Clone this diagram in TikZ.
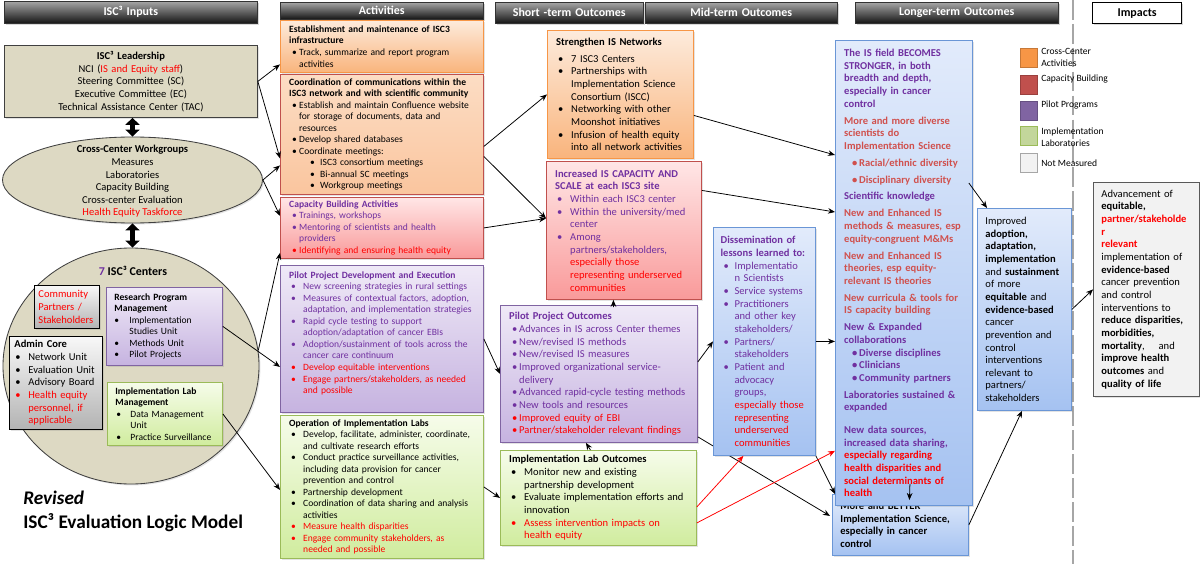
\documentclass[tikz,border=0pt]{standalone}
\usepackage{fontspec}
\setmainfont{Carlito}
\usepackage{tikz}
\usetikzlibrary{arrows.meta, calc, positioning, shapes.geometric, shadows}
\usepackage{xcolor}
\definecolor{Orng}  {HTML}{F79646}
\definecolor{OrngT} {HTML}{FDEBDC}
\definecolor{OrngB} {HTML}{F9B47C}
\definecolor{PchT}  {HTML}{FCDDC4}
\definecolor{PchB}  {HTML}{FAC59E}
\definecolor{Brick} {HTML}{C0504D}
\definecolor{PinkT} {HTML}{FFE6E6}
\definecolor{PinkB} {HTML}{F99A9A}
\definecolor{Purp}  {HTML}{8064A2}
\definecolor{PurpT} {HTML}{EFE9F7}
\definecolor{PurpB} {HTML}{C6B3E0}
\definecolor{PurpX} {HTML}{7030A0}
\definecolor{Grn}   {HTML}{9BBB59}
\definecolor{GrnL}  {HTML}{C3D69B}
\definecolor{GrnT}  {HTML}{F6FCEA}
\definecolor{GrnB}  {HTML}{D0EC9E}
\definecolor{Blu}   {HTML}{6A96D6}
\definecolor{BluT}  {HTML}{E2EBFB}
\definecolor{BluB}  {HTML}{A5C2F1}
\definecolor{Beige} {HTML}{DDD9C3}
\definecolor{GryT}  {HTML}{F8F8F8}
\definecolor{GryB}  {HTML}{B3B3B3}
\definecolor{GryL}  {HTML}{F2F2F2}
\definecolor{LRed}  {HTML}{D0504D}

\newcommand\fsm{\fontsize{6.8}{8.2}\selectfont}
\newcommand\fmd{\fontsize{7.5}{9}\selectfont}
\newlength\bulin
\newlength\bultx
\newcommand\bul{\par\noindent\hangindent=\bultx\hangafter=1%
  \hspace*{\bulin}\makebox[\dimexpr\bultx-\bulin\relax][l]{\textbullet}}
\newcommand\subbul{\par\noindent\hangindent=\dimexpr\bultx+0.525cm\relax\hangafter=1%
  \hspace*{\dimexpr\bultx+0.275cm\relax}\makebox[0.25cm][l]{\textbullet}}

\tikzset{
  blk/.style args={#1/#2/#3}{
    rectangle, draw=#1, top color=#2, bottom color=#3,
    line width=0.6pt, align=left, anchor=north west,
    inner xsep=0.22cm, inner ysep=1pt,
    drop shadow={opacity=0.22, shadow xshift=1pt, shadow yshift=-1pt},
  },
  sz/.style 2 args={
    minimum width=#1*0.025cm, minimum height=#2*0.025cm,
    text width=#1*0.025cm-2*\pgfkeysvalueof{/pgf/inner xsep},
  },
  hdr/.style={
    rectangle, draw=black!80, top color=black!35, bottom color=black!92,
    text=white, font=\fontsize{8.5}{10}\selectfont\bfseries,
    align=center, anchor=north west, inner xsep=2pt, inner ysep=0pt,
    drop shadow={opacity=0.3, shadow xshift=1pt, shadow yshift=-1pt},
  },
  ell/.style={
    ellipse, draw=black!75, fill=Beige, line width=0.6pt, inner sep=0pt,
    drop shadow={opacity=0.22, shadow xshift=1pt, shadow yshift=-1pt},
  },
  bl/.style 2 args={
    execute at begin node={\setlength\bulin{#1}\setlength\bultx{#2}},
  },
  lgd/.style={
    rectangle, minimum width=17*0.025cm, minimum height=19*0.025cm,
    inner sep=0pt, line width=0.6pt,
  },
  lgt/.style={font=\fsm, align=left, anchor=west, inner sep=0pt},
  arr/.style args={#1}{
    -{Stealth[length=5pt,width=4pt]}, line width=0.55pt, color=#1,
  },
  dbl/.style={
    {Triangle[length=5pt,width=10pt]}-{Triangle[length=5pt,width=10pt]},
    line width=3pt,
  },
  divline/.style={draw=black!35, line width=2pt, dash pattern=on 14pt off 3pt},
}

\begin{document}
\begin{tikzpicture}[x=0.025cm, y=-0.025cm]
  \path[use as bounding box, fill=white] (0,0) rectangle (1200,564);

  % column headers
  \draw[divline] (1073,0) -- (1073,564);
  \node[hdr, sz={253}{22}] (hin) at (4,1) {ISC³ Inputs};
  \node[hdr, sz={203}{17}] (hact) at (280,2) {Activities};
  \node[hdr, sz={148}{21}] (hst) at (495,2) {Short -term Outcomes};
  \node[hdr, sz={192}{21}] (hmt) at (645,2) {Mid-term Outcomes};
  \node[hdr, sz={203}{21}] (hlt) at (855,2) {Longer-term Outcomes};
  \node[hdr, sz={89}{21}, top color=white, bottom color=white, text=black,
    draw=black, line width=0.9pt] (himp) at (1092,2) {Impacts};

  % inputs
  \node[blk=black!75/Beige/Beige, sz={253}{72}, align=center, font=\fmd] (lead) at (4,45)
    {\textbf{ISC³ Leadership}\\NCI ({\color{red}IS and Equity staff})\\Steering Committee (SC)\\
     Executive Committee (EC)\\Technical Assistance Center (TAC)};
  \node[ell, minimum width=260*0.025cm, minimum height=86*0.025cm] (cw) at (132.5,180) {};
  \node[font=\fmd, align=center] (cwt) at (132.5,181.5)
    {\textbf{Cross-Center Workgroups}\\Measures\\Laboratories\\Capacity Building\\
     Cross-center Evaluation\\{\color{red}Health Equity Taskforce}};
  \node[ell, minimum width=256*0.025cm, minimum height=236*0.025cm] (ctr) at (131,366) {};
  \node[font=\fontsize{8.5}{10}\selectfont\bfseries] (ctrt) at (133,271)
    {{\color{PurpX}7} ISC³ Centers};
  \node[blk=black/GryT/GryB, sz={65}{43}, inner xsep=0.1cm, font=\fmd, text=red] (comm) at (34,285)
    {Community\\Partners /\\Stakeholders};
  \node[blk=black/GryT/GryB, sz={93}{93}, inner xsep=0.125cm, font=\fmd, bl={0.025cm}{0.35cm}] (adm) at (9,336)
    {\textbf{Admin Core}\bul Network Unit\bul Evaluation Unit\bul Advisory Board\color{red}%
     \bul Health equity\newline personnel, if\newline applicable\par};
  \node[blk=Purp/PurpT/PurpB, sz={116}{78}, inner xsep=0.2cm, font=\fsm, bl={0cm}{0.375cm}] (rpm) at (106,287)
    {\textbf{Research Program\\Management}\bul Implementation\newline Studies Unit\bul Methods Unit\bul Pilot Projects\par};
  \node[blk=Grn/GrnT/GrnB, sz={115}{63}, inner xsep=0.2cm, font=\fsm, bl={0.025cm}{0.375cm}] (ilm) at (107,382)
    {\textbf{Implementation Lab\\Management}\bul Data Management\newline Unit\bul Practice Surveillance\par};
  \node[font=\fontsize{13.7}{16.5}\selectfont\bfseries, align=left, anchor=north west, inner sep=0pt] (ttl) at (23,491)
    {\textit{Revised}\\ISC³ Evaluation Logic Model};

  % activities
  \node[blk=Orng/OrngT/OrngB, sz={203}{52}, font=\fsm, bl={0.075cm}{0.25cm}] (A1) at (280,20)
    {\textbf{Establishment and maintenance of ISC3\\infrastructure}\bul Track, summarize and report program\newline activities\par};
  \node[blk=Brick/PchT/PchB, sz={203}{120}, font=\fsm, bl={0.075cm}{0.25cm}] (A2) at (280,74)
    {\textbf{Coordination of communications within the\\ISC3 network and with scientific community}%
     \bul Establish and maintain Confluence website\newline for storage of documents, data and\newline resources
     \bul Develop shared databases\bul Coordinate meetings:\subbul ISC3 consortium meetings
     \subbul Bi-annual SC meetings\subbul Workgroup meetings\par};
  \node[blk=Brick/PinkT/PinkB, sz={203}{61}, font=\fsm, bl={0.075cm}{0.25cm}] (A3) at (280,197)
    {\color{PurpX}\textbf{Capacity Building Activities}\bul Trainings, workshops
     \bul Mentoring of scientists and health providers\color{red}\bul Identifying and ensuring health equity\par};
  \node[blk=Purp/PurpT/PurpB, sz={203}{147}, font=\fsm, bl={0.05cm}{0.35cm}] (A4) at (280,265)
    {\color{PurpX}\textbf{Pilot Project Development and Execution}\bul New screening strategies in rural settings
     \bul Measures of contextual factors, adoption,\newline adaptation, and implementation strategies
     \bul Rapid cycle testing to support\newline adoption/adaptation of cancer EBIs
     \bul Adoption/sustainment of tools across the\newline cancer care continuum\color{red}
     \bul Develop equitable interventions\bul Engage partners/stakeholders, as needed\newline and possible\par\vspace{8pt}};
  \node[blk=Grn/GrnT/GrnB, sz={203}{143}, font=\fsm, bl={0.05cm}{0.35cm}] (A5) at (280,415)
    {\textbf{Operation of Implementation Labs}\bul Develop, facilitate, administer, coordinate,\newline and cultivate research efforts
     \bul Conduct practice surveillance activities,\newline including data provision for cancer\newline prevention and control
     \bul Partnership development\bul Coordination of data sharing and analysis\newline activities\color{red}
     \bul Measure health disparities\bul Engage community stakeholders, as\newline needed and possible\par};

  % short-term outcomes
  \node[blk=Orng/OrngT/OrngB, sz={146}{128}, font=\fmd, bl={0.05cm}{0.375cm}] (S1) at (547,30)
    {\textbf{Strengthen IS Networks}\par\vspace{3pt}\bul 7 ISC3 Centers
     \bul Partnerships with\newline Implementation Science\newline Consortium (ISCC)
     \bul Networking with other\newline Moonshot initiatives\bul Infusion of health equity\newline into all network activities\par};
  \node[blk=Brick/PinkT/PinkB, sz={155}{138}, font=\fmd, bl={0.05cm}{0.375cm}] (S2) at (546,161)
    {\color{PurpX}\textbf{Increased IS CAPACITY AND\\SCALE at each ISC3 site}\bul Within each ISC3 center
     \bul Within the university/med\newline center\bul Among\newline partners/stakeholders,\newline
     \color{red}especially those\newline representing underserved\newline communities\par};
  \node[blk=Purp/PurpT/PurpB, sz={197}{137}, font=\fmd, bl={0.075cm}{0.25cm}] (S3) at (500,305)
    {\color{PurpX}\textbf{Pilot Project Outcomes}\bul Advances in IS across Center themes
     \bul New/revised IS methods\bul New/revised IS measures\bul Improved organizational service-\newline delivery
     \bul Advanced rapid-cycle testing methods\bul New tools and resources\color{red}
     \bul Improved equity of EBI\bul Partner/stakeholder relevant findings\par};
  \node[blk=Grn/GrnT/GrnB, sz={196}{95}, font=\fmd, bl={0.05cm}{0.375cm}] (S4) at (500,450)
    {\textbf{Implementation Lab Outcomes}\bul Monitor new and existing\newline partnership development
     \bul Evaluate implementation efforts and\newline innovation\color{red}
     \bul Assess intervention impacts on\newline health equity\par};

  % longer-term outcomes
  \node[blk=Blu/BluT/BluB, sz={136}{61}, inner xsep=0.2cm, font=\fmd\bfseries] (L2) at (832,494)
    {More and BETTER\\Implementation Science,\\especially in cancer\\control};
  \draw[arr=black] ($(S3.south east)+(0,-6)$) -- ($(L2.west)+(-2,-9)$);

  % mid-term outcomes
  \node[blk=Blu/BluT/BluB, sz={102}{228}, inner xsep=0.18cm, font=\fmd, bl={0.075cm}{0.35cm}] (M1) at (713,227)
    {\color{PurpX}\textbf{Dissemination of\\lessons learned to:}\bul Implementatio\newline n Scientists
     \bul Service systems\bul Practitioners\newline and other key\newline stakeholders/
     \bul Partners/\newline stakeholders\bul Patient and\newline advocacy\newline groups,\newline
     \color{red}especially those\newline representing\newline underserved\newline communities\par};

  \node[blk=Blu/BluT/BluB, sz={137}{465}, font=\fmd\bfseries, bl={0.2cm}{0.375cm}] (L1) at (835,40)
    {\color{PurpX}The IS field BECOMES\\STRONGER, in both\\breadth and depth,\\especially in cancer\\control\par\vspace{3pt}
     \color{LRed}More and more diverse\\scientists do\\Implementation Science\par\vspace{3pt}
     \bul Racial/ethnic diversity\par\vspace{3pt}\bul Disciplinary diversity\par\vspace{3pt}
     \color{PurpX}Scientific knowledge\par\vspace{3pt}
     \color{LRed}New and Enhanced IS\\methods \& measures, esp\\equity-congruent M\&Ms\par\vspace{3pt}
     New and Enhanced IS\\theories, esp equity-\\relevant IS theories\par\vspace{3pt}
     New curricula \& tools for\\IS capacity building\par\vspace{3pt}
     \color{PurpX}New \& Expanded\\collaborations\bul Diverse disciplines\bul Clinicians\bul Community partners\par\vspace{3pt}
     Laboratories sustained \&\\expanded\par\vspace{7pt}
     New data sources,\\increased data sharing,\\\color{red}especially regarding\\health disparities and\\
     social determinants of\\health};
  \node[blk=Blu/BluT/BluB, sz={94}{202}, inner xsep=0.2cm, font=\fmd] (L3) at (977,208)
    {Improved\\\textbf{adoption,}\\\textbf{adaptation,}\\\textbf{implementation}\\and \textbf{sustainment}\\
     of more\\\textbf{equitable} and\\\textbf{evidence-based}\\cancer\\prevention and\\control\\
     interventions\\relevant to\\partners/\\stakeholders};

  % impacts
  \node[blk=black!65/GryL/GryL, sz={106}{214}, inner xsep=0.2cm, font=\fmd] (I1) at (1093,182)
    {Advancement of\\\textbf{equitable,}\\{\color{red}\bfseries partner/stakeholde\\r\\relevant}\\
     implementation of\\\textbf{evidence-based}\\cancer prevention\\and control\\interventions to\\
     \textbf{reduce disparities,}\\\textbf{morbidities,}\\\textbf{mortality},\hspace{0.35cm}and\\
     \textbf{improve health}\\\textbf{outcomes} and\\\textbf{quality of life}};

  % legend
  \node[lgd, fill=Orng, draw=Orng!80!black] (lg1) at (1028.5,57.5) {};
  \node[lgd, fill=Brick, draw=Brick!80!black] (lg2) at (1028.5,84.5) {};
  \node[lgd, fill=Purp, draw=Purp!80!black] (lg3) at (1028.5,111) {};
  \node[lgd, fill=GrnL, draw=Grn] (lg4) at (1028.5,136) {};
  \node[lgd, fill=GryL, draw=black!35] (lg5) at (1028.5,162.5) {};
  \node[lgt] (lt1) at (1041,57.5) {Cross-Center\\Activities};
  \node[lgt] (lt2) at (1041,79) {Capacity Building};
  \node[lgt] (lt3) at (1041,105) {Pilot Programs};
  \node[lgt] (lt4) at (1041,137) {Implementation\\Laboratories};
  \node[lgt] (lt5) at (1041,163.5) {Not Measured};

  % inputs -> activities
  \draw[dbl] (lead.south -| cw.north) -- (cw.north);
  \draw[dbl] (cw.south) -- (cw.south |- ctr.north);
  \draw[arr=black] (lead.east) -- ($(A1.west)+(0,18)$);
  \draw[arr=black] (lead.east) -- ($(A2.west)+(0,24)$);
  \draw[arr=black] (cw.east) -- ($(A2.west)+(0,31)$);
  \draw[arr=black] (cw.east) -- ($(A3.west)+(0,-12)$);
  \draw[arr=black] (ctr.7) -- ($(A3.west)+(0,25)$);
  \draw[arr=black] (rpm.east) -- ($(A4.west)+(0,28)$);
  \draw[arr=black] (ilm.east) -- ($(A5.west)+(0,3)$);

  % activities -> short-term
  \draw[arr=black] ($(A2.east)+(0,12)$) -- (S1.west);
  \draw[arr=black] ($(A2.east)+(0,22)$) -- ($(S2.west)+(0,-12)$);
  \draw[arr=black] (A3.east) -- ($(S2.west)+(0,-12)$);
  \draw[arr=black] (A4.east) -- (S3.west);
  \draw[arr=black] (A5.east) -- (S4.west);
  \draw[arr=black] ($(S4.north)+(-8,0)$) -- ($(S3.south)+(-13,0)$);
  \draw[arr=black] ($(S3.north)+(14.5,2)$) -- ($(S2.south)+(-10.5,0)$);

  % short-term -> mid/longer-term
  \draw[arr=black] ($(S1.east)+(0,21)$) -- ($(L1.north west)+(0,115)$);
  \draw[arr=black] ($(S2.east)+(0,-40)$) -- ($(L1.north west)+(0,172)$);
  \draw[arr=black] ($(S3.east)+(0,-12)$) -- (M1.west);
  \draw[arr=black] (M1.east) -- (M1.east -| L1.west);
  \draw[arr=black] (M1.south east) -- ($(L2.north west)+(3,0)$);
  \draw[arr=red] ($(S4.east)+(0,9)$) -- ($(M1.south)+(-21,0)$);
  \draw[arr=red] ($(S4.east)+(0,25)$) -- ($(L1.south west)+(0,-55)$);
  \draw[arr=black] ($(L1.south)+(6,-22)$) -- ($(L2.north)+(9,6)$);
  \draw[arr=black] ($(L1.north east)+(-4,143)$) -- ($(L3.north west)+(10,0)$);
  \draw[arr=black] (L2.east) -- ($(L3.south west)+(45,0)$);
  \draw[arr=black] (L3.east) -- (I1.west);
\end{tikzpicture}
\end{document}
